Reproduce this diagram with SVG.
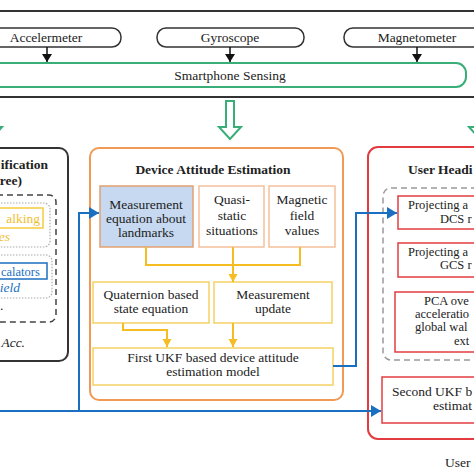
<svg xmlns="http://www.w3.org/2000/svg" width="474" height="474" viewBox="0 0 474 474">
<defs>
<marker id="ab" markerUnits="userSpaceOnUse" markerWidth="10" markerHeight="10" refX="8" refY="5" orient="auto"><path d="M0,0 L8,5 L0,10 Z" fill="#111"/></marker>
<marker id="ay" markerUnits="userSpaceOnUse" markerWidth="10" markerHeight="10" refX="8" refY="5" orient="auto"><path d="M0,0.5 L8,5 L0,9.5 Z" fill="#f5bd22"/></marker>
<marker id="au" markerUnits="userSpaceOnUse" markerWidth="12" markerHeight="12" refX="10" refY="6" orient="auto"><path d="M0,0 L10,6 L0,12 Z" fill="#1b6fc0"/></marker>
</defs>
<style>
text{font-family:"Liberation Serif","Times New Roman",serif;font-size:13.5px;fill:#222}
.c{text-anchor:middle}
.e{text-anchor:end}
.b{font-weight:bold}
.i{font-style:italic}
.s{font-size:12.5px}
.pill{fill:#fff;stroke:#333;stroke-width:1.5}
.grn{fill:#fff;stroke:#3aae78;stroke-width:2}
.yb{fill:#fff;stroke:#f5d264;stroke-width:1.5}
.rb{fill:#fff;stroke:#e23c40;stroke-width:1.5}
.yl{fill:none;stroke:#f5bd22;stroke-width:2}
.bl{fill:none;stroke:#1b6fc0;stroke-width:2}
</style>
<rect width="474" height="474" fill="#fff"/>
<g id="top-panel"><rect x="-10" y="11" width="494" height="86" fill="none" stroke="#333" stroke-width="2"/></g>
<g id="accelerometer"><rect class="pill" x="-30" y="28" width="151" height="19" rx="9"/><text class="c" x="46" y="42">Accelermeter</text></g>
<g id="gyroscope"><rect class="pill" x="157" y="28" width="147" height="19" rx="9"/><text class="c" x="230" y="42">Gyroscope</text></g>
<g id="magnetometer"><rect class="pill" x="344" y="28" width="150" height="19" rx="9"/><text class="c" x="417" y="42">Magnetometer</text></g>
<g id="smartphone-sensing"><rect class="grn" x="-20" y="63" width="486" height="24" rx="10"/><text class="c" x="230" y="80">Smartphone Sensing</text></g>
<g id="big-arrows">
<path class="grn" d="M226,101 H234 V127 H241 L230,139 L219,127 H226 Z"/>
<path class="grn" d="M-13,101 H-5 V127 H2 L-9,139 L-20,127 H-13 Z"/>
<path class="grn" d="M476,101 H484 V127 H491 L480,139 L469,127 H476 Z"/>
</g>
<g id="classification">
<rect x="-20" y="148" width="88" height="213" rx="9" fill="#fff" stroke="#333" stroke-width="2"/>
<text class="e b" x="48" y="169">ification</text>
<text class="e b" x="22" y="185">ree)</text>
<rect x="-20" y="195" width="76" height="127" rx="7" fill="none" stroke="#444" stroke-width="1.5" stroke-dasharray="6,4"/>
<rect x="-20" y="203" width="70" height="44" rx="6" fill="none" stroke="#aaa" stroke-width="1.2" stroke-dasharray="1.5,1.5"/>
<rect x="-20" y="208" width="63" height="20" fill="#fff" stroke="#f5cc40" stroke-width="1.5"/>
<text class="e" x="40" y="223" style="fill:#f0c030">alking</text>
<text class="e i" x="10" y="241" style="fill:#f0c030">es</text>
<rect x="-20" y="255" width="72" height="43" rx="6" fill="none" stroke="#aaa" stroke-width="1.2" stroke-dasharray="1.5,1.5"/>
<rect x="-20" y="263" width="67" height="16" fill="#fff" stroke="#1b6fc0" stroke-width="1.5"/>
<text class="s" x="1" y="276" style="fill:#1b6fc0">calators</text>
<text class="e i" x="20" y="292" style="fill:#1b6fc0">ield</text>
<text x="0" y="310">.</text>
<text class="e i" x="25" y="347">Acc.</text>
</g>
<g id="device-attitude">
<rect x="90" y="148" width="253" height="252" rx="9" fill="#fff" stroke="#f09a55" stroke-width="2"/>
<text class="c b" x="213" y="174">Device Attitude Estimation</text>
</g>
<g id="measurement-equation"><rect x="100" y="186" width="93" height="61" fill="#c6d9f0" stroke="#e3a070" stroke-width="1.5"/><text class="c" x="146" y="209">Measurement</text><text class="c" x="146" y="223">equation about</text><text class="c" x="146" y="237">landmarks</text></g>
<g id="quasi-static"><rect class="yb" x="199" y="186" width="65" height="61" style="stroke:#f5c09a"/><text class="c" x="232" y="204">Quasi-</text><text class="c" x="232" y="220">static</text><text class="c" x="232" y="235">situations</text></g>
<g id="magnetic-field"><rect class="yb" x="269" y="186" width="66" height="61" style="stroke:#f5c09a"/><text class="c" x="302" y="204">Magnetic</text><text class="c" x="302" y="220">field</text><text class="c" x="302" y="235">values</text></g>
<g id="quaternion"><rect class="yb" x="93" y="282" width="116" height="41"/><text class="c" x="151" y="299">Quaternion based</text><text class="c" x="151" y="313">state equation</text></g>
<g id="measurement-update"><rect class="yb" x="214" y="282" width="118" height="41"/><text class="c" x="273" y="299">Measurement</text><text class="c" x="273" y="313">update</text></g>
<g id="first-ukf"><rect class="yb" x="93" y="348" width="240" height="37"/><text class="c" x="213" y="362">First UKF based device attitude</text><text class="c" x="213" y="376">estimation model</text></g>
<g id="user-heading">
<rect x="368" y="147" width="130" height="292" rx="10" fill="#fff" stroke="#e23c40" stroke-width="2"/>
<text class="b" x="408" y="174">User Headi</text>
<rect x="383" y="188" width="110" height="172" rx="8" fill="none" stroke="#999" stroke-width="1.5" stroke-dasharray="6,4"/>
</g>
<g id="projecting-dcs"><rect class="rb" x="398" y="196" width="90" height="33"/><text class="s" x="408" y="209">Projecting a</text><text class="s" x="440" y="223">DCS r</text></g>
<g id="projecting-gcs"><rect class="rb" x="398" y="243" width="90" height="34"/><text class="s" x="408" y="256">Projecting a</text><text class="s" x="440" y="269">GCS r</text></g>
<g id="pca"><rect class="rb" x="395" y="292" width="90" height="60"/><text class="s" x="424" y="305">PCA ove</text><text class="s" x="415" y="318">acceleratio</text><text class="s" x="415" y="331">global wal</text><text class="s" x="454" y="345">ext</text></g>
<g id="second-ukf"><rect class="rb" x="382" y="377" width="100" height="46"/><text x="392" y="396">Second UKF b</text><text x="433" y="410">estimat</text></g>
<g id="caption"><text x="445" y="467">User</text></g>
<g id="connectors">
<line x1="47" y1="47" x2="47" y2="62" stroke="#111" stroke-width="1.5" marker-end="url(#ab)"/>
<line x1="230" y1="47" x2="230" y2="62" stroke="#111" stroke-width="1.5" marker-end="url(#ab)"/>
<line x1="417" y1="47" x2="417" y2="62" stroke="#111" stroke-width="1.5" marker-end="url(#ab)"/>
<path class="yl" d="M146,247 V265 H300 V247"/>
<path class="yl" d="M233,247 V282" marker-end="url(#ay)"/>
<path class="yl" d="M123,323 V330 H167 V347" marker-end="url(#ay)"/>
<path class="yl" d="M233,323 V347" marker-end="url(#ay)"/>
<path class="bl" d="M-5,411 H381" marker-end="url(#au)"/>
<path class="bl" d="M79,411 V213 H99" marker-end="url(#au)"/>
<path class="bl" d="M333,366 H356 V213 H397" marker-end="url(#au)"/>
</g>
</svg>
